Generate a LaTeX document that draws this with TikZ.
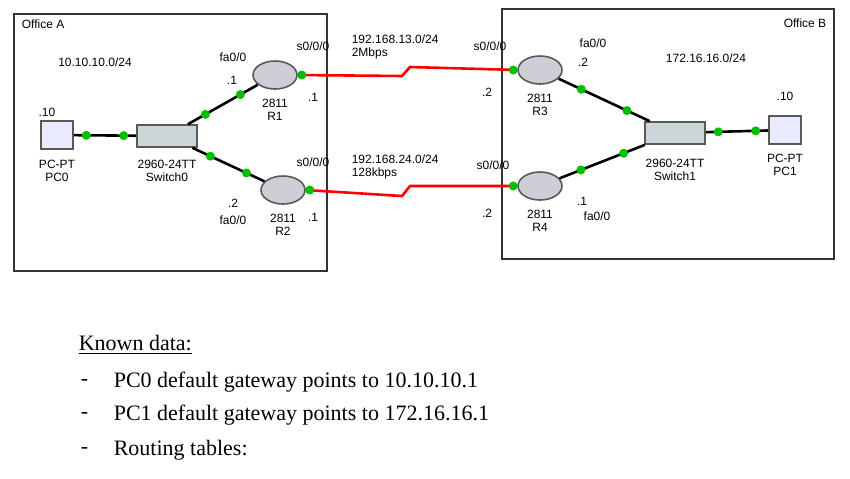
\documentclass[tikz,border=0pt]{standalone}
\usepackage{fontspec}
\setmainfont{Liberation Serif}
\newfontfamily\lblfont{Liberation Sans}
\usetikzlibrary{shapes,positioning}

\begin{document}
\begin{tikzpicture}[x=0.5pt,y=-0.5pt,thick,
    router/.style={ellipse,draw=gray!70!black,fill=blue!10!gray!35,minimum width=22pt,minimum height=14pt,inner sep=0pt},
    switch/.style={rectangle,draw=gray!70!black,fill=cyan!15!gray!40,minimum width=30pt,minimum height=11pt,inner sep=0pt},
    pc/.style={rectangle,draw=gray!70!black,fill=blue!8,minimum width=16pt,minimum height=14pt,inner sep=0pt},
    lbl/.style={font=\lblfont\fontsize{6}{6.5}\selectfont,inner sep=0.5pt,align=center},
    eth/.style={draw=black,line width=1.3pt},
    ser/.style={draw=red,line width=1.3pt},
    dot/.style={circle,fill=green!75!black,inner sep=0pt,minimum size=4.5pt},
    txt/.style={font=\fontsize{11}{12}\selectfont,anchor=west,inner sep=0pt}]
  \useasboundingbox (0,0) rectangle (850,478);
  % offices
  \draw[gray!40!black,line width=0.8pt] (14,14) rectangle (327,271);
  \draw[gray!40!black,line width=0.8pt] (502,9) rectangle (834,259);
  \node[lbl,anchor=north west] at (20,18) {Office A};
  \node[lbl,anchor=north east] at (828,17) {Office B};
  \node[lbl] at (95,62) {10.10.10.0/24};
  \node[lbl] at (706,58) {172.16.16.0/24};

  % devices
  \node[pc] (pc0) at (57,135) {};
  \node[switch] (sw0) at (167,136) {};
  \node[router] (r1) at (275,75) {};
  \node[router] (r2) at (283,190) {};
  \node[router] (r3) at (540,70) {};
  \node[router] (r4) at (540,186) {};
  \node[switch] (sw1) at (675,133) {};
  \node[pc] (pc1) at (785,130) {};

  % serial bends
  \coordinate (a1) at (402,76);
  \coordinate (a2) at (410,67);
  \coordinate (b1) at (402,196);
  \coordinate (b2) at (410,186);

  % links
  \draw[eth] (pc0) -- node[dot,pos=0.2]{} node[dot,pos=0.8]{} (sw0);
  \draw[eth] (sw0) -- node[dot,pos=0.25]{} node[dot,pos=0.75]{} (r1);
  \draw[eth] (sw0) -- node[dot,pos=0.25]{} node[dot,pos=0.75]{} (r2);
  \draw[eth] (r3) -- node[dot,pos=0.25]{} node[dot,pos=0.75]{} (sw1);
  \draw[eth] (r4) -- node[dot,pos=0.25]{} node[dot,pos=0.75]{} (sw1);
  \draw[eth] (sw1) -- node[dot,pos=0.2]{} node[dot,pos=0.8]{} (pc1);
  \draw[ser] (r1.east) node[dot,xshift=2pt]{} -- (a1) -- (a2) -- (r3.west) node[dot,xshift=-2pt]{};
  \draw[ser] (r2.east) node[dot,xshift=2pt]{} -- (b1) -- (b2) -- (r4.west) node[dot,xshift=-2pt]{};

  % device labels
  \node[lbl] at (57,171) {PC-PT\\PC0};
  \node[lbl] at (167,171) {2960-24TT\\Switch0};
  \node[lbl] at (275,110) {2811\\R1};
  \node[lbl] at (283,225) {2811\\R2};
  \node[lbl] at (540,105) {2811\\R3};
  \node[lbl] at (540,221) {2811\\R4};
  \node[lbl] at (675,170) {2960-24TT\\Switch1};
  \node[lbl] at (785,165) {PC-PT\\PC1};

  % interface labels
  \node[lbl] at (47,112) {.10};
  \node[lbl] at (785,96) {.10};
  \node[lbl] at (233,57) {fa0/0};
  \node[lbl] at (232,80) {.1};
  \node[lbl] at (313,46) {s0/0/0};
  \node[lbl] at (313,97) {.1};
  \node[lbl] at (233,203) {.2};
  \node[lbl] at (233,220) {fa0/0};
  \node[lbl] at (313,162) {s0/0/0};
  \node[lbl] at (313,217) {.1};
  \node[lbl] at (490,46) {s0/0/0};
  \node[lbl] at (487,92) {.2};
  \node[lbl] at (593,43) {fa0/0};
  \node[lbl] at (583,62) {.2};
  \node[lbl] at (493,165) {s0/0/0};
  \node[lbl] at (487,213) {.2};
  \node[lbl] at (582,201) {.1};
  \node[lbl] at (597,216) {fa0/0};
  \node[lbl,align=left,anchor=west] at (350,47) {192.168.13.0/24\\2Mbps};
  \node[lbl,align=left,anchor=west] at (350,167) {192.168.24.0/24\\128kbps};

  % known data
  \node[txt] at (78,345) {\underline{Known data:}};
  \foreach \y/\t in {382/PC0 default gateway points to 10.10.10.1,
                     415/PC1 default gateway points to 172.16.16.1,
                     450/Routing tables:}{
    \node[txt] at (80,\y) {-};
    \node[txt] at (113,\y) {\t};
  }
\end{tikzpicture}
\end{document}
